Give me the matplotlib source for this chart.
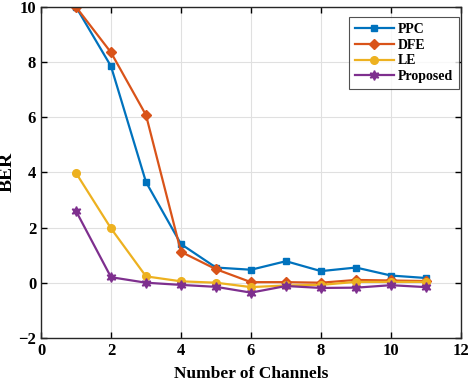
import numpy as np
import matplotlib
matplotlib.use('Agg')
import matplotlib.pyplot as plt

channels = [1, 2, 3, 4, 5, 6, 7, 8, 9, 10, 11]
ppc = [10.0, 7.85, 3.65, 1.4, 0.55, 0.47, 0.78, 0.42, 0.55, 0.26, 0.17]
dfe = [10.0, 8.35, 6.08, 1.12, 0.49, 0.02, 0.02, 0.0, 0.1, 0.08, 0.06]
le = [3.98, 1.97, 0.23, 0.05, 0.0, -0.16, -0.1, -0.08, 0.03, 0.03, 0.03]
proposed = [2.6, 0.2, 0.0, -0.08, -0.15, -0.36, -0.12, -0.19, -0.18, -0.09, -0.16]

plt.rcParams['font.family'] = ['Liberation Serif', 'DejaVu Serif']
plt.rcParams['font.weight'] = 'bold'

fig = plt.figure(figsize=(4.74, 3.87), dpi=100)
ax = fig.add_axes([0.0865, 0.127, 0.886, 0.855])

ax.plot(channels, ppc, color='#0072BD', marker='s', ms=5, lw=1.6, label='PPC')
ax.plot(channels, dfe, color='#D95319', marker='D', ms=5, lw=1.6, label='DFE')
ax.plot(channels, le, color='#EDB120', marker='o', ms=5.5, lw=1.6, label='LE')
ax.plot(channels, proposed, color='#7E2F8E', marker=(6, 1, 0), ms=7, lw=1.6, label='Proposed')

ax.set_xlim(0, 12)
ax.set_ylim(-2, 10)
ax.set_xticks(np.arange(0, 13, 2))
ax.set_yticks(np.arange(-2, 11, 2))
ax.grid(True, color='#e0e0e0', lw=0.8)
ax.tick_params(direction='in', top=True, right=True, labelsize=12, length=4, width=1.0)
for lbl in ax.get_xticklabels() + ax.get_yticklabels():
    lbl.set_fontweight('bold')
for s in ax.spines.values():
    s.set_color('#262626')
    s.set_linewidth(1.0)

ax.set_xlabel('Number of Channels', fontsize=12.5, fontweight='bold', labelpad=5)
ax.set_ylabel('BER', fontsize=14, fontweight='bold', labelpad=2)

leg = ax.legend(loc='upper right', prop={'weight': 'bold', 'size': 10},
                fancybox=False, edgecolor='#262626', handlelength=2.8,
                borderpad=0.4, labelspacing=0.2, handletextpad=0.3,
                borderaxespad=0.15, bbox_to_anchor=(1.0, 0.975))
leg.get_frame().set_linewidth(0.8)

fig.savefig('out.png', dpi=100)
